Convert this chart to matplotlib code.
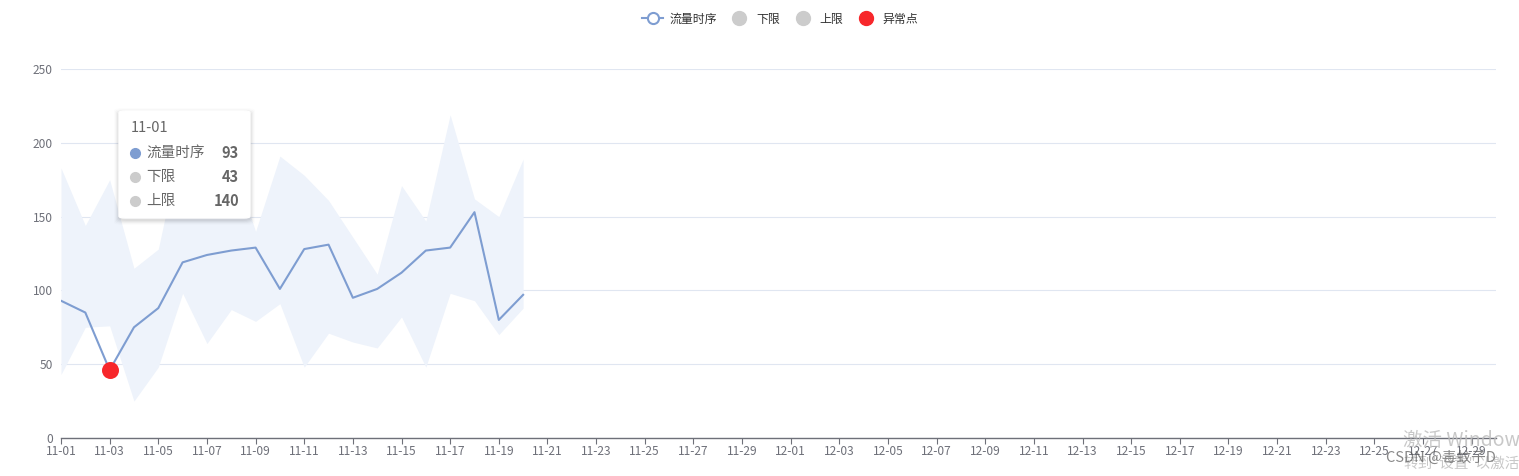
import numpy as np
import pandas as pd
import matplotlib
matplotlib.use("Agg")
import matplotlib.pyplot as plt
from matplotlib.lines import Line2D
from matplotlib.patches import FancyBboxPatch

plt.rcParams['font.family'] = ['Noto Sans CJK SC', 'DejaVu Sans']

# categories: 11-01 .. 12-30
dates = [d.strftime('%m-%d') for d in pd.date_range('2023-11-01', '2023-12-30')]

# series (first 20 days have data)
flow = [93, 85, 46, 75, 88, 119, 124, 127, 129, 101, 128, 131, 95, 101, 112, 127, 129, 153, 80, 97]
lower = [43, 75, 76, 25, 48, 98, 64, 87, 79, 91, 48, 71, 65, 61, 82, 48, 98, 93, 70, 88]
upper = [140, 69, 99, 90, 80, 107, 131, 103, 61, 100, 130, 90, 71, 50, 89, 99, 121, 69, 80, 101]
anomaly_idx = [2]
anomaly_val = [46]

W, H = 1519, 476
fig = plt.figure(figsize=(W / 100, H / 100), dpi=100)
ax = fig.add_axes([61 / W, 38 / H, 1435 / W, 369 / H])

def px(x, y):
    return x / W, 1 - y / H

axis_col = '#6E7079'
line_col = '#7E9DD1'
band_col = '#EEF3FB'
red = '#F7272B'

x = np.arange(len(flow))
lo = np.array(lower)
hi = lo + np.array(upper)
ax.fill_between(x, lo, hi, color=band_col, lw=0, zorder=1)
ax.plot(x, flow, color=line_col, lw=1.5, zorder=3)
ax.scatter(anomaly_idx, anomaly_val, s=150, color=red, zorder=4, lw=0)

ax.set_xlim(0, len(dates) - 1)
ax.set_ylim(0, 250)
ax.set_yticks(np.arange(0, 251, 50))
ax.set_xticks(np.arange(0, len(dates), 2))
ax.set_xticklabels(dates[::2])
ax.grid(axis='y', color='#E0E6F1', lw=0.8, zorder=0)
ax.set_axisbelow(True)
for s in ['top', 'right', 'left']:
    ax.spines[s].set_visible(False)
ax.spines['bottom'].set_color(axis_col)
ax.spines['bottom'].set_linewidth(1)
ax.tick_params(axis='y', length=0, pad=6, labelsize=8.6, labelcolor=axis_col)
ax.tick_params(axis='x', length=4, width=0.8, color=axis_col, pad=1, labelsize=8.6, labelcolor=axis_col)

# legend
handles = [
    Line2D([], [], color=line_col, lw=1.5, marker='o', ms=8, mfc='white', mec=line_col, mew=1.5),
    Line2D([], [], ls='', marker='o', ms=10, color='#CCCCCC'),
    Line2D([], [], ls='', marker='o', ms=10, color='#CCCCCC'),
    Line2D([], [], ls='', marker='o', ms=10, color=red),
]
fig.legend(handles, ['流量时序', '下限', '上限', '异常点'], loc='center', bbox_to_anchor=px(780, 19),
           ncol=4, frameon=False, fontsize=8.6, handlelength=1.8, handletextpad=0.5,
           columnspacing=1.0, labelcolor='#333333')

# tooltip
bx0, by0, bx1, by1 = 119, 111, 250, 218
for k, a in enumerate([0.04, 0.035, 0.03, 0.02, 0.01]):
    pad = 2 + k * 2
    fig.add_artist(FancyBboxPatch(px(bx0 - pad / 2, by1 + 2 + pad / 2),
                                  (bx1 - bx0 + pad) / W, (by1 - by0 + pad) / H,
                                  boxstyle='round,pad=0,rounding_size=0.006',
                                  transform=fig.transFigure, fc='black', ec='none', alpha=a))
fig.add_artist(FancyBboxPatch(px(bx0, by1), (bx1 - bx0) / W, (by1 - by0) / H,
                              boxstyle='round,pad=0,rounding_size=0.004',
                              transform=fig.transFigure, fc='white', ec='white', lw=1))
tip_date = dates[0]
tip_names = ['流量时序', '下限', '上限']
tip_vals = [flow[0], lower[0], upper[0]]
tip_cols = [line_col, '#CCCCCC', '#CCCCCC']
fig.text(*px(131, 128), tip_date, fontsize=10.5, color='#666666', va='center', ha='left')
for i in range(3):
    yy = 153 + i * 24
    fig.add_artist(Line2D([135 / W], [1 - yy / H], transform=fig.transFigure, ls='',
                          marker='o', ms=7, color=tip_cols[i]))
    fig.text(*px(146, yy), tip_names[i], fontsize=10.5, color='#666666', va='center', ha='left')
    fig.text(*px(239, yy), str(tip_vals[i]), fontsize=10.5, color='#666666', va='center',
             ha='right', fontweight='bold')

# screenshot watermark overlays
fig.text(*px(1403, 441), '激活 Windows', fontsize=14, color='#BBBBBB', va='center', ha='left', alpha=0.8)
fig.text(*px(1403, 464), '转到"设置"以激活', fontsize=10.5, color='#BBBBBB', va='center', ha='left', alpha=0.8)
fig.text(*px(1386, 458), 'CSDN @毒蚊子D', fontsize=10.5, color='#555555', va='center', ha='left', alpha=0.7)

fig.savefig('out.png', dpi=100)
